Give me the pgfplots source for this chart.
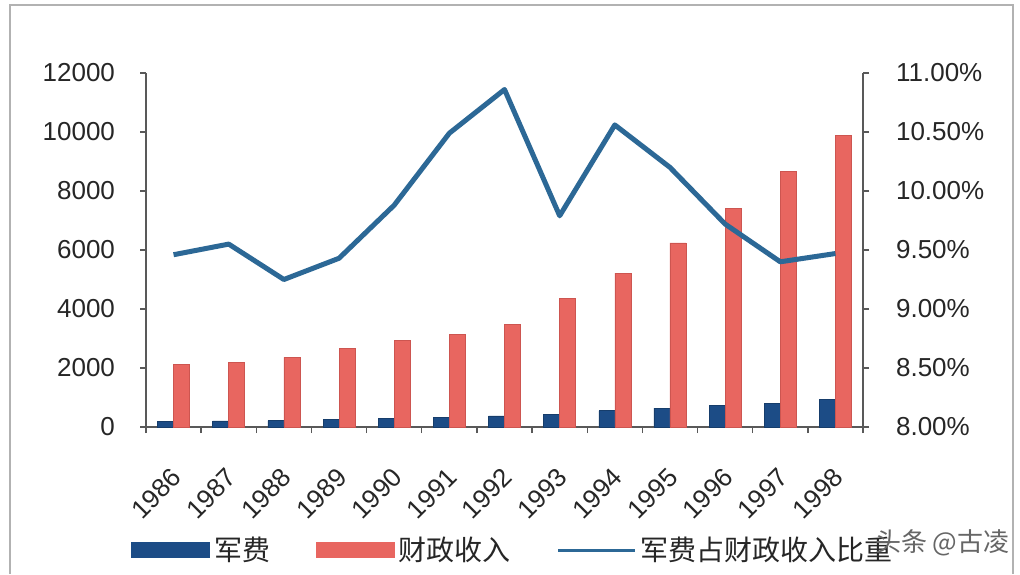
\documentclass[border=0pt]{standalone}
\usepackage{pgfplots}
\pgfplotsset{compat=1.18}
\usepackage{fontspec}
\setmainfont{Liberation Sans}
\newfontfamily\cjk{Noto Sans CJK SC}
\definecolor{barblue}{RGB}{28,76,134}
\definecolor{barred}{RGB}{232,102,96}
\definecolor{barredline}{RGB}{205,85,80}
\definecolor{lineblue}{RGB}{44,104,150}
\pgfplotsset{
  legbar/.style={legend image code/.code={\fill[#1] (0pt,-3.75pt) rectangle (39pt,3.75pt);}},
  legline/.style={legend image code/.code={\draw[lineblue, line width=1.5pt] (0pt,0pt) -- (38.5pt,0pt);}},
}
\begin{document}
\begin{tikzpicture}
\path[use as bounding box, fill=white] (0,0) rectangle (510pt,287pt);
\draw[black!30, line width=1.3pt] (5pt,0) -- (5pt,284.5pt) -- (506.5pt,284.5pt) -- (506.5pt,0);
\begin{axis}[
  at={(73pt,73.5pt)}, anchor=south west,
  scale only axis, width=358.5pt, height=177pt,
  xmin=-0.5, xmax=12.5, ymin=0, ymax=12000,
  axis y line*=left, axis x line*=bottom,
  axis line style={draw=black!65, line width=0.7pt},
  tick style={draw=black!65, line width=0.7pt},
  tick align=outside, major tick length=3pt, minor tick length=3pt,
  ytick={0,2000,...,12000}, scaled y ticks=false,
  xtick={0,...,12},
  xticklabels={1986,1987,1988,1989,1990,1991,1992,1993,1994,1995,1996,1997,1998},
  major x tick style={draw=none},
  minor xtick={-0.5,0.5,...,12.5},
  /pgf/number format/assume math mode=true,
  /pgf/number format/1000 sep={},
  yticklabel style={font=\fontsize{13}{13}\selectfont, text=black!85, xshift=-9pt},
  xticklabel style={font=\fontsize{13}{13}\selectfont, text=black!85, xshift=4pt, yshift=-17.5pt, rotate=45, anchor=east},
  ybar=0pt, bar width=8pt,
  legend style={at={(-0.0209,-0.3475)}, anchor=west, draw=none, fill=none,
    inner sep=0pt, font=\cjk\fontsize{14}{14}\selectfont, text=black!85,
    /tikz/every even column/.append style={column sep=21pt}},
  legend columns=3,
]
\addplot[fill=barblue, draw=barblue!80!black, line width=0.3pt, legbar=barblue]
  coordinates {(0,200.75) (1,209.62) (2,218.00) (3,251.47) (4,290.31) (5,330.31) (6,377.86) (7,425.80) (8,550.71) (9,636.72) (10,720.06) (11,812.57) (12,934.70)};
\addlegendentry{军费}
\addplot[fill=barred, draw=barredline, line width=0.3pt, legbar=barred]
  coordinates {(0,2122.01) (1,2199.35) (2,2357.24) (3,2664.90) (4,2937.10) (5,3149.48) (6,3483.37) (7,4348.95) (8,5218.10) (9,6242.20) (10,7407.99) (11,8651.14) (12,9875.95)};
\addlegendentry{财政收入}
\addlegendimage{legline}
\addlegendentry{军费占财政收入比重}
\end{axis}
\begin{axis}[
  at={(73pt,73.5pt)}, anchor=south west,
  scale only axis, width=358.5pt, height=177pt,
  xmin=-0.5, xmax=12.5, ymin=8, ymax=11,
  axis y line*=right, axis x line=none,
  axis line style={draw=black!65, line width=0.7pt},
  tick style={draw=black!65, line width=0.7pt},
  tick align=outside, major tick length=3pt,
  ytick={8,8.5,9,9.5,10,10.5,11},
  /pgf/number format/assume math mode=true,
  yticklabel={\pgfmathprintnumber[fixed,fixed zerofill,precision=2]{\tick}\%},
  yticklabel style={font=\fontsize{13}{13}\selectfont, text=black!85, xshift=10pt},
]
\addplot[lineblue, line width=2.5pt, line join=round] coordinates {(0,9.46) (1,9.55) (2,9.25) (3,9.43) (4,9.88) (5,10.49) (6,10.86) (7,9.79) (8,10.56) (9,10.20) (10,9.72) (11,9.40) (12,9.47)};
\end{axis}
\node[anchor=west, font=\cjk\fontsize{13}{13}\selectfont, text=black!60] at (434pt,15.5pt) {头条 @古凌};
\end{tikzpicture}
\end{document}
